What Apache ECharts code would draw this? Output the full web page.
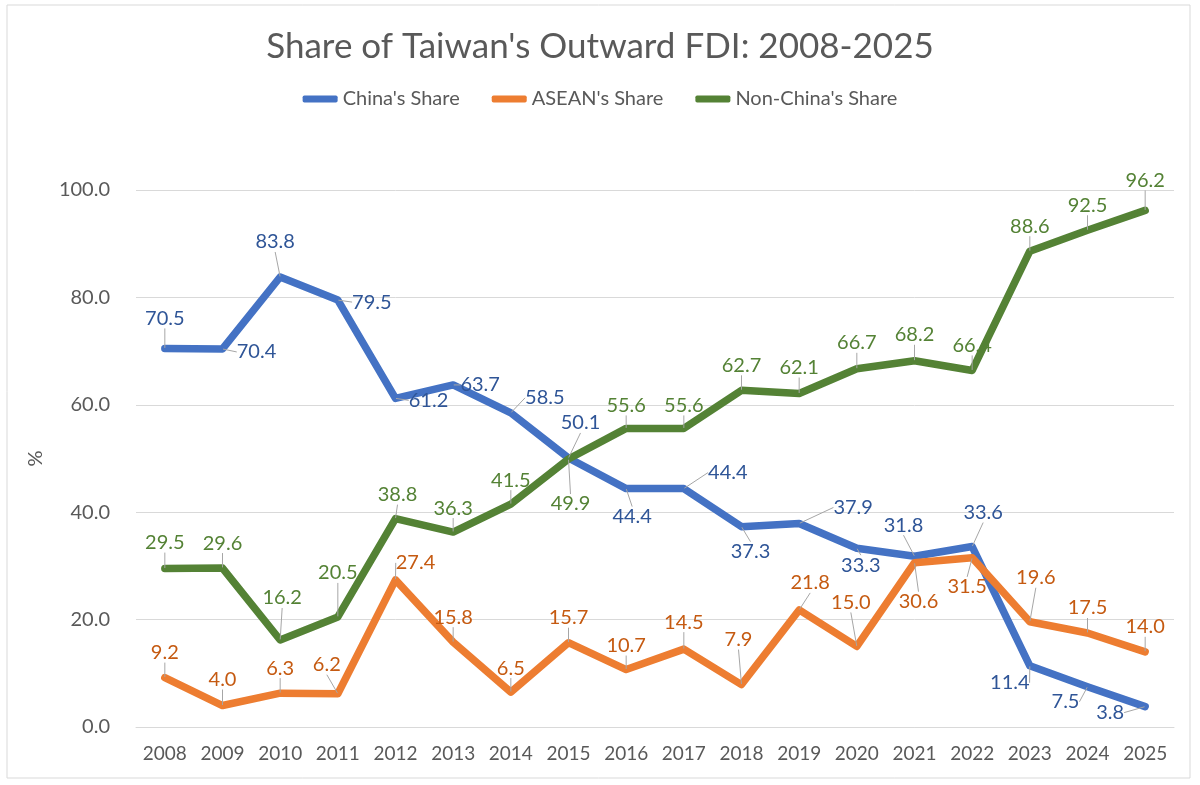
<!DOCTYPE html>
<html>
<head>
<meta charset="utf-8">
<title>Share of Taiwan's Outward FDI</title>
<script src="https://cdn.jsdelivr.net/npm/echarts@6/dist/echarts.min.js"></script>
<style>
  html, body { margin: 0; padding: 0; background: #ffffff; }
  #chart { width: 1200px; height: 785px; }
</style>
</head>
<body>
<div id="chart"></div>
<script>
  // data
  var years = ['2008', '2009', '2010', '2011', '2012', '2013', '2014', '2015', '2016',
               '2017', '2018', '2019', '2020', '2021', '2022', '2023', '2024', '2025'];
  var chinaShare = [70.5, 70.4, 83.8, 79.5, 61.2, 63.7, 58.5, 50.1, 44.4,
                    44.4, 37.3, 37.9, 33.3, 31.8, 33.6, 11.4, 7.5, 3.8];
  var aseanShare = [9.2, 4.0, 6.3, 6.2, 27.4, 15.8, 6.5, 15.7, 10.7,
                    14.5, 7.9, 21.8, 15.0, 30.6, 31.5, 19.6, 17.5, 14.0];
  var nonChinaShare = [29.5, 29.6, 16.2, 20.5, 38.8, 36.3, 41.5, 49.9, 55.6,
                       55.6, 62.7, 62.1, 66.7, 68.2, 66.4, 88.6, 92.5, 96.2];
  var yTicks = [0, 20, 40, 60, 80, 100];

  // label nudges (px) so labels sit like the excel original
  var chinaNudge = [[0,-30],[34,3],[-5,-35],[34,2],[33,2],[27,0],[34,-15],[12,-35],[6,28],
                    [44,-16],[9,25],[54,-16],[4,17],[-11,-31],[11,-34],[-20,17],[-22,15],[-35,6]];
  var aseanNudge = [[0,-25],[0,-26],[0,-25],[-11,-29],[20,-17],[0,-25],[0,-24],[0,-25],[0,-24],
                    [0,-27],[-3,-45],[11,-27],[-6,-44],[4,39],[-5,29],[6,-44],[0,-25],[0,-25]];
  var greenNudge = [[0,-26],[0,-25],[2,-42],[0,-44],[2,-24],[0,-24],[0,-24],[2,45],[0,-23],
                    [0,-23],[0,-25],[0,-26],[0,-26],[0,-26],[0,-25],[0,-25],[0,-25],[0,-30]];
  var nudges = [chinaNudge, aseanNudge, greenNudge];

  var font = 'Lato, "Open Sans", sans-serif';

  function makeSeries(name, values, lineColor, labelColor) {
    return {
      name: name,
      type: 'line',
      data: values,
      symbol: 'circle',
      symbolSize: 1,
      lineStyle: { width: 7.5, color: lineColor, cap: 'round', join: 'round' },
      itemStyle: { color: lineColor },
      label: {
        show: true,
        position: 'inside',
        color: labelColor,
        fontFamily: font,
        fontSize: 20,
        formatter: function (p) { return p.value.toFixed(1); }
      },
      labelLine: { show: true, lineStyle: { color: '#a6a6a6', width: 1 } },
      emphasis: { disabled: true }
    };
  }

  var chart = echarts.init(document.getElementById('chart'));
  chart.setOption({
    backgroundColor: '#ffffff',
    animation: false,
    textStyle: { fontFamily: font },
    graphic: [{
      type: 'rect',
      shape: { x: 7, y: 5, width: 1183, height: 773 },
      style: { fill: 'none', stroke: '#d9d9d9', lineWidth: 1 },
      silent: true, z: -1
    }],
    title: {
      text: "Share of Taiwan's Outward FDI: 2008-2025",
      left: 'center',
      top: 24,
      textStyle: { fontFamily: font, fontSize: 35, fontWeight: 'normal', color: '#595959' }
    },
    legend: {
      top: 84,
      left: 'center',
      itemWidth: 35,
      itemHeight: 7,
      itemGap: 32,
      icon: 'roundRect',
      textStyle: { fontFamily: font, fontSize: 20, color: '#595959' },
      data: ["China's Share", "ASEAN's Share", "Non-China's Share"]
    },
    grid: { left: 136, right: 26, top: 190, bottom: 58, containLabel: false },
    xAxis: {
      type: 'category',
      data: years,
      boundaryGap: true,
      axisLine: { show: true, lineStyle: { color: '#d9d9d9' } },
      axisTick: { show: false },
      axisLabel: { color: '#595959', fontSize: 19, fontFamily: font, margin: 17, interval: 0 }
    },
    yAxis: {
      type: 'value',
      min: yTicks[0],
      max: yTicks[yTicks.length - 1],
      interval: 20,
      name: '%',
      nameLocation: 'middle',
      nameRotate: 90,
      nameGap: 90,
      nameTextStyle: { color: '#595959', fontSize: 20, fontFamily: font },
      axisLine: { show: false },
      axisTick: { show: false },
      splitLine: { lineStyle: { color: '#d9d9d9', width: 1 } },
      axisLabel: {
        color: '#595959', fontSize: 20, fontFamily: font, margin: 26,
        formatter: function (v) { return v.toFixed(1); }
      }
    },
    labelLayout: function (p) {
      var n = nudges[p.seriesIndex][p.dataIndex];
      return { dx: n[0], dy: n[1] };
    },
    series: [
      makeSeries("China's Share", chinaShare, '#4472C4', '#2F5597'),
      makeSeries("ASEAN's Share", aseanShare, '#ED7D31', '#C55A11'),
      makeSeries("Non-China's Share", nonChinaShare, '#548235', '#548235')
    ]
  });
</script>
</body>
</html>
